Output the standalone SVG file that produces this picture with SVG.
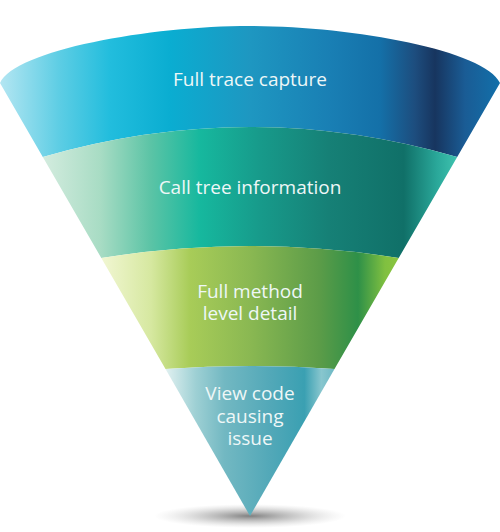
<svg xmlns="http://www.w3.org/2000/svg" width="500" height="532" viewBox="0 0 500 532">
<defs>
<linearGradient id="g1" gradientUnits="userSpaceOnUse" x1="0" y1="0" x2="500" y2="0">
<stop offset="0" stop-color="#b4e6f2"/>
<stop offset="0.12" stop-color="#5ccde4"/>
<stop offset="0.22" stop-color="#22bddd"/>
<stop offset="0.34" stop-color="#0aadd1"/>
<stop offset="0.5" stop-color="#1e97c1"/>
<stop offset="0.66" stop-color="#197fb4"/>
<stop offset="0.76" stop-color="#1470a8"/>
<stop offset="0.83" stop-color="#1d4d7e"/>
<stop offset="0.87" stop-color="#17355f"/>
<stop offset="0.93" stop-color="#1a5c95"/>
<stop offset="1" stop-color="#1270aa"/>
</linearGradient>
<linearGradient id="g2" gradientUnits="userSpaceOnUse" x1="42" y1="0" x2="458" y2="0">
<stop offset="0" stop-color="#d4ecdf"/>
<stop offset="0.14" stop-color="#a8dcc4"/>
<stop offset="0.26" stop-color="#5cc4a6"/>
<stop offset="0.38" stop-color="#16b89e"/>
<stop offset="0.52" stop-color="#179b8b"/>
<stop offset="0.69" stop-color="#168076"/>
<stop offset="0.87" stop-color="#107068"/>
<stop offset="0.95" stop-color="#2aa89a"/>
<stop offset="1" stop-color="#40c4b0"/>
</linearGradient>
<linearGradient id="g3" gradientUnits="userSpaceOnUse" x1="100" y1="0" x2="400" y2="0">
<stop offset="0" stop-color="#f2f7d4"/>
<stop offset="0.17" stop-color="#d6e8a0"/>
<stop offset="0.3" stop-color="#a8cc58"/>
<stop offset="0.5" stop-color="#8ab852"/>
<stop offset="0.73" stop-color="#5c9c48"/>
<stop offset="0.86" stop-color="#2e9048"/>
<stop offset="0.95" stop-color="#80c040"/>
<stop offset="1" stop-color="#8cc63f"/>
</linearGradient>
<linearGradient id="g4" gradientUnits="userSpaceOnUse" x1="165" y1="0" x2="335" y2="0">
<stop offset="0" stop-color="#e2f1f1"/>
<stop offset="0.18" stop-color="#9ed0d4"/>
<stop offset="0.35" stop-color="#72b8c2"/>
<stop offset="0.62" stop-color="#52a8b8"/>
<stop offset="0.82" stop-color="#3aa0b2"/>
<stop offset="0.92" stop-color="#88c6ce"/>
<stop offset="1" stop-color="#6cb8c4"/>
</linearGradient>
<radialGradient id="sh" cx="0.5" cy="0.5" r="0.5">
<stop offset="0" stop-color="#555" stop-opacity="0.75"/>
<stop offset="0.5" stop-color="#888" stop-opacity="0.4"/>
<stop offset="1" stop-color="#bbb" stop-opacity="0"/>
</radialGradient>
</defs>
<style>
.lbl{font-family:"Open Sans","Liberation Sans",sans-serif;font-size:19px;fill:#eef7f7;text-anchor:middle}
</style>
<ellipse cx="250" cy="516" rx="96" ry="12" fill="url(#sh)"/>
<g id="band1">
<path d="M0,83 C15,50 150,26 250,26 C350,26 485,50 500,83 L457.2,157 Q250,97 42.8,157 Z" fill="url(#g1)"/>
<text class="lbl" x="250" y="86">Full trace capture</text>
</g>
<g id="band2">
<path d="M42.8,157 Q250,97 457.2,157 L398.7,258 Q250,234 101.3,258 Z" fill="url(#g2)"/>
<text class="lbl" x="250" y="194">Call tree information</text>
</g>
<g id="band3">
<path d="M101.3,258 Q250,234 398.7,258 L334.5,369 Q250,363 165.5,369 Z" fill="url(#g3)"/>
<text class="lbl" x="250" y="298"><tspan x="250">Full method</tspan><tspan x="250" dy="22">level detail</tspan></text>
</g>
<g id="band4">
<path d="M165.5,369 Q250,363 334.5,369 L250,516 Z" fill="url(#g4)"/>
<text class="lbl" x="250" y="400"><tspan x="250">View code</tspan><tspan x="250" dy="22.5">causing</tspan><tspan x="250" dy="22.5">issue</tspan></text>
</g>
<g id="connectors"/>
</svg>
